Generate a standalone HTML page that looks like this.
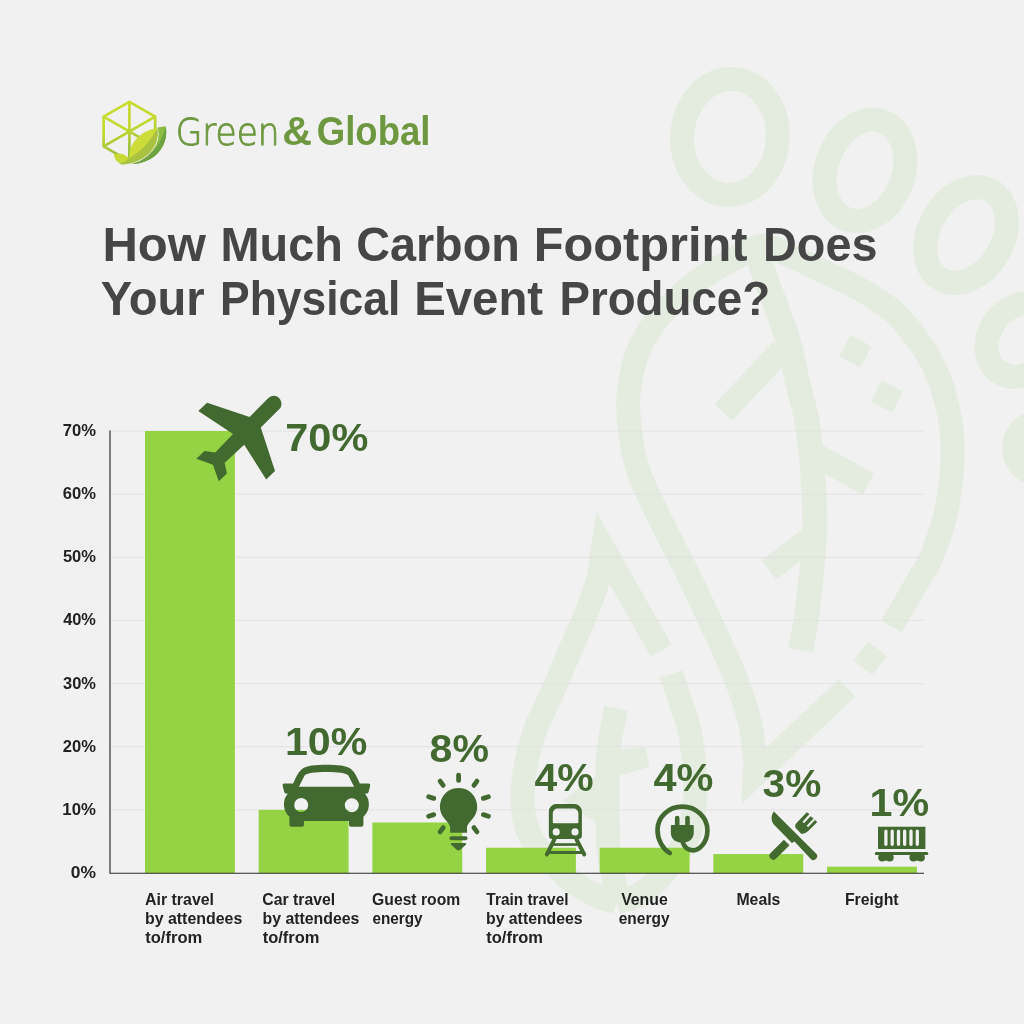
<!DOCTYPE html>
<html lang="en">
<head>
<meta charset="utf-8">
<title>How Much Carbon Footprint Does Your Physical Event Produce?</title>
<style>
html,body{margin:0;padding:0;background:#f1f1f1;}
body{width:1024px;height:1024px;overflow:hidden;}
svg{display:block;}
text{font-family:"Liberation Sans",sans-serif;}
.b{font-weight:700;}
.ttl{font-weight:700;fill:#464646;}
.ax{font-weight:700;fill:#222;}
.lb{font-weight:700;fill:#222;}
.pc{font-weight:700;fill:#42692f;}
</style>
</head>
<body>
<svg width="1024" height="1024" viewBox="0 0 1024 1024">
<defs>
<linearGradient id="hexg" x1="0.2" y1="0" x2="0.45" y2="1">
<stop offset="0" stop-color="#c9dc2e"/><stop offset="0.45" stop-color="#c3d92f"/><stop offset="0.72" stop-color="#a6c739"/><stop offset="1" stop-color="#7db340"/>
</linearGradient>
</defs>
<rect width="1024" height="1024" fill="#f1f1f1"/>

<!-- WATERMARK -->
<g id="wm" fill="none" stroke="#e4ecdf" stroke-width="24">
<ellipse cx="730" cy="137" rx="47.8" ry="58" transform="rotate(4 730 137)"/>
<ellipse cx="865" cy="170.5" rx="38.5" ry="52" transform="rotate(20 865 170.5)"/>
<ellipse cx="966" cy="235" rx="36.8" ry="50.9" transform="rotate(30 966 235)"/>
<ellipse cx="1021" cy="340" rx="32" ry="39" transform="rotate(35 1021 340)"/>
<ellipse cx="1042" cy="448" rx="28" ry="27"/>
<path d="M847 687.8L754.5 775.5C754.6 772.4 756.0 766.6 755.0 757.0C754.0 747.4 752.2 731.6 748.7 717.8C745.2 704.0 740.4 690.0 734.0 674.0C727.6 658.0 718.2 638.7 710.5 622.0C702.8 605.3 694.9 588.2 688.0 574.0C681.1 559.8 675.2 549.3 669.0 537.0C662.8 524.7 655.9 510.6 650.9 500.0C645.9 489.4 642.4 482.7 639.3 473.5C636.1 464.3 633.8 454.3 632.0 445.0C630.2 435.7 629.3 427.3 628.8 417.9C628.3 408.5 627.6 399.7 629.1 388.6C630.6 377.5 634.0 362.1 638.0 351.5C642.0 340.9 646.8 333.6 653.0 325.0C659.2 316.4 667.1 307.7 675.0 300.0C682.9 292.3 691.3 285.5 700.5 279.0C709.7 272.5 719.8 266.5 730.0 261.0C740.2 255.5 751.7 246.8 762.0 246.0C772.3 245.2 782.0 252.3 792.0 256.5C802.0 260.7 811.1 265.8 822.0 271.0C832.9 276.2 845.4 281.0 857.4 287.8C869.4 294.6 882.5 301.4 893.8 311.8C905.0 322.2 916.9 338.0 924.9 350.3C932.9 362.6 937.3 373.2 941.7 385.9C946.1 398.6 949.3 414.0 951.1 426.7C952.9 439.4 953.1 448.1 952.3 462.3C951.5 476.6 949.6 496.3 946.1 512.2C942.6 528.2 935.6 546.7 931.0 558.0C926.4 569.3 925.1 568.6 918.5 580.0C911.9 591.4 896.0 618.6 891.5 626.3" stroke-linejoin="miter" stroke-miterlimit="6"/>
<path d="M760.0 252.0C760.3 254.7 757.5 253.8 762.0 268.0C766.5 282.2 781.1 318.0 787.0 337.0C792.9 356.0 794.2 368.2 797.5 382.0C800.8 395.8 804.4 407.3 806.7 420.0C809.0 432.7 810.3 445.3 811.5 458.0C812.7 470.7 813.5 484.2 814.0 496.0C814.5 507.8 814.9 518.0 814.6 529.0C814.4 540.0 813.7 548.5 812.5 562.0C811.3 575.5 809.4 595.3 807.4 610.0C805.4 624.7 801.8 643.3 800.7 650.0" stroke-width="25"/>
<path d="M782 350L723.3 412.2"/>
<path d="M813 453.5L868.3 484.3"/>
<path d="M814 535.5L769 570.1"/>
<path d="M616.7 902.2C613.1 901.1 602.8 898.9 595.2 895.3C587.6 891.7 577.9 885.9 571.2 880.8C564.5 875.7 560.8 870.3 554.9 864.5C549.0 858.7 540.6 852.1 536.0 846.0C531.4 839.9 529.2 834.3 527.0 828.0C524.8 821.7 523.5 816.7 523.0 808.0C522.5 799.3 522.2 788.5 524.0 776.0C525.8 763.5 530.5 744.3 534.0 733.0C537.5 721.7 541.0 716.9 545.0 708.0C549.0 699.1 553.4 690.0 557.9 679.7C562.4 669.5 566.9 658.0 571.8 646.5C576.7 635.0 582.8 622.4 587.2 611.0C591.6 599.6 595.8 588.5 598.4 578.0C601.0 567.5 602.2 553.0 603.0 548.0L661.2 650.6" stroke-linejoin="miter" stroke-miterlimit="6"/>
<path d="M671.4 674.0C672.8 678.3 676.6 690.2 679.7 700.0C682.8 709.8 687.5 720.3 690.0 733.0C692.5 745.7 694.3 763.2 695.0 776.0C695.7 788.8 695.2 799.8 694.0 810.0C692.8 820.2 692.2 827.6 688.0 837.0C683.8 846.4 673.6 859.4 668.6 866.5C663.6 873.6 662.9 875.0 657.7 879.9C652.5 884.8 644.3 891.9 637.5 895.6C630.7 899.3 620.2 901.1 616.7 902.2"/>
<path d="M615.9 708.2C614.8 714.1 610.9 733.1 609.5 743.7C608.1 754.3 607.6 761.0 607.3 772.0C607.0 783.0 607.3 797.3 607.5 810.0C607.7 822.7 607.6 837.5 608.5 848.0C609.4 858.5 611.6 864.0 613.0 873.0C614.4 882.0 616.1 897.2 616.7 902.0"/>
<path d="M612 750L645.5 746.9L649.6 766.8L612 778Z" fill="#e4ecdf" stroke="none"/>
<path d="M600 773L562.3 800.4L600 825Z" fill="#e4ecdf" stroke="none"/>
<rect x="843.4" y="339.3" width="24" height="24" transform="rotate(29 855.4 351.3)" fill="#e4ecdf" stroke="none"/>
<rect x="875.0" y="384.4" width="24" height="24" transform="rotate(27 887 396.4)" fill="#e4ecdf" stroke="none"/>
<rect x="858.4" y="646.4" width="23.7" height="23.7" transform="rotate(38.6 870.3 658.2)" fill="#e4ecdf" stroke="none"/>
</g>

<!-- LOGO -->
<g id="logo">
<g fill="none" stroke="url(#hexg)" stroke-width="2.7" stroke-linejoin="round">
<path d="M129.4 101.8L155.2 116.6V146.4L129.4 161.2L103.6 146.4V116.6Z"/>
<path d="M129.4 101.8V161.2M103.6 116.6L155.2 146.4M155.2 116.6L103.6 146.4"/>
</g>
<path d="M157.6 127.6L165.6 126.3C169.5 144 156 163.5 132 164L123.5 164.6Z" fill="#8abd40"/>
<path d="M165.6 126.3C169.5 144 156 163.5 132 164C150 158.5 161 146 165.6 126.3Z" fill="#6ea243"/>
<path d="M157.2 127.8C160.5 142 151 161.5 123.5 164.6" fill="none" stroke="#f1f1f1" stroke-width="1.5"/>
<path d="M128.9 158.8C128.5 146 137 132 157.2 127.8C159.5 140 150 158.5 128.9 158.8Z" fill="#cddc39"/>
<path d="M128.9 158.8C143 150 152 139 157.2 127.8C160.5 142 151 161.5 123.5 164.6C121 164.8 119.5 163.8 118.5 162.6C122.5 162.4 126 160.8 128.9 158.8Z" fill="#a9c23f"/>
<path d="M113.8 154.2C119.5 152.6 126 154.2 128.9 158.8C126 161.4 122 163 118.3 162.6C115.6 160.6 114.2 157.6 113.8 154.2Z" fill="#c9da36"/>
</g>

<g id="logotext">
<text x="175.67" y="145.30" font-size="37.8" textLength="103.97" lengthAdjust="spacingAndGlyphs" style="font-family:'DejaVu Sans Light','DejaVu Sans','Liberation Sans',sans-serif;font-weight:200" fill="#6d983f" stroke="#6d983f" stroke-width="0.9">Green</text>
<text class="b" x="282.24" y="145.20" font-size="41" textLength="29.78" lengthAdjust="spacingAndGlyphs" fill="#6d983f">&amp;</text>
<text class="b" x="316.74" y="145.20" font-size="41" textLength="113.78" lengthAdjust="spacingAndGlyphs" fill="#6d983f">Global</text>
</g>

<!-- TITLE -->
<g id="title">
<text class="ttl" x="102.44" y="260.75" font-size="47.5" textLength="103.48" lengthAdjust="spacingAndGlyphs">How</text>
<text class="ttl" x="220.59" y="260.75" font-size="47.5" textLength="122.26" lengthAdjust="spacingAndGlyphs">Much</text>
<text class="ttl" x="356.13" y="260.75" font-size="47.5" textLength="163.68" lengthAdjust="spacingAndGlyphs">Carbon</text>
<text class="ttl" x="533.71" y="260.75" font-size="47.5" textLength="213.89" lengthAdjust="spacingAndGlyphs">Footprint</text>
<text class="ttl" x="763.10" y="260.75" font-size="47.5" textLength="114.29" lengthAdjust="spacingAndGlyphs">Does</text>
<text class="ttl" x="100.78" y="315.00" font-size="47.5" textLength="103.87" lengthAdjust="spacingAndGlyphs">Your</text>
<text class="ttl" x="220.00" y="315.00" font-size="47.5" textLength="180.34" lengthAdjust="spacingAndGlyphs">Physical</text>
<text class="ttl" x="414.20" y="315.00" font-size="47.5" textLength="128.92" lengthAdjust="spacingAndGlyphs">Event</text>
<text class="ttl" x="559.41" y="315.00" font-size="47.5" textLength="210.80" lengthAdjust="spacingAndGlyphs">Produce?</text>
</g>

<!-- CHART -->
<g id="chart">
<line x1="110" y1="809.9" x2="924" y2="809.9" stroke="#e2e2e2" stroke-width="1"/>
<line x1="110" y1="746.7" x2="924" y2="746.7" stroke="#e2e2e2" stroke-width="1"/>
<line x1="110" y1="683.6" x2="924" y2="683.6" stroke="#e2e2e2" stroke-width="1"/>
<line x1="110" y1="620.4" x2="924" y2="620.4" stroke="#e2e2e2" stroke-width="1"/>
<line x1="110" y1="557.3" x2="924" y2="557.3" stroke="#e2e2e2" stroke-width="1"/>
<line x1="110" y1="494.2" x2="924" y2="494.2" stroke="#e2e2e2" stroke-width="1"/>
<line x1="110" y1="431.0" x2="924" y2="431.0" stroke="#e2e2e2" stroke-width="1"/>
<rect x="145.00" y="431.02" width="89.9" height="441.98" fill="#94d444"/>
<rect x="258.67" y="809.86" width="89.9" height="63.14" fill="#94d444"/>
<rect x="372.34" y="822.49" width="89.9" height="50.51" fill="#94d444"/>
<rect x="486.01" y="847.74" width="89.9" height="25.26" fill="#94d444"/>
<rect x="599.68" y="847.74" width="89.9" height="25.26" fill="#94d444"/>
<rect x="713.35" y="854.06" width="89.9" height="18.94" fill="#94d444"/>
<rect x="827.02" y="866.69" width="89.9" height="6.31" fill="#94d444"/>
<path d="M110 430.5V873.2H924" fill="none" stroke="#2a2a2a" stroke-width="1.15"/>
<text class="ax" x="70.80" y="878.00" font-size="16.5" textLength="25.18" lengthAdjust="spacingAndGlyphs">0%</text>
<text class="ax" x="62.35" y="814.86" font-size="16.5" textLength="33.59" lengthAdjust="spacingAndGlyphs">10%</text>
<text class="ax" x="62.82" y="751.72" font-size="16.5" textLength="33.12" lengthAdjust="spacingAndGlyphs">20%</text>
<text class="ax" x="63.03" y="688.58" font-size="16.5" textLength="32.91" lengthAdjust="spacingAndGlyphs">30%</text>
<text class="ax" x="63.15" y="625.44" font-size="16.5" textLength="32.78" lengthAdjust="spacingAndGlyphs">40%</text>
<text class="ax" x="62.90" y="562.30" font-size="16.5" textLength="33.03" lengthAdjust="spacingAndGlyphs">50%</text>
<text class="ax" x="62.78" y="499.16" font-size="16.5" textLength="33.16" lengthAdjust="spacingAndGlyphs">60%</text>
<text class="ax" x="62.69" y="436.02" font-size="16.5" textLength="33.25" lengthAdjust="spacingAndGlyphs">70%</text>
</g>

<!-- ICONS -->
<g id="icons" fill="#42692f">
<path d="M207.1 402.7L249.6 416.9L268.1 398.3A7.78 7.78 0 0 1 279.4 409L260.8 427.6L275 471.1L266.2 479.4L244.2 444.7L224.7 462.75L226.9 473.5L218.8 481.3L212.9 464.7L196.3 458.8L204.5 451L215.2 452.5L233 433.9L198.3 411Z"/>
<path fill-rule="evenodd" d="M293.2 783.6C296 777 298 772.5 301.5 769.5C306 765.5 316 764.8 326.4 764.8C337 764.8 347 765.5 351.5 769.5C355 772.5 357 777 359.8 783.6L368.5 783.6Q370.5 783.6 370.2 785.6L368.6 792Q368.2 793.6 366.5 793.6L365 793.8C368 797.5 369.2 801 368.8 806C368.4 810.5 366.5 814 363.4 816.8V824.8Q363.4 826.8 361.4 826.8H351Q349 826.8 349 824.8V821H304V824.8Q304 826.8 302 826.8H291.4Q289.4 826.8 289.4 824.8V816.8C286.3 814 284.4 810.5 284 806C283.6 801 284.8 797.5 287.8 793.8L286.3 793.6Q284.6 793.6 284.2 792L282.6 785.6Q282.3 783.6 284.3 783.6Z M298.9 786.8L304.6 775.6C306 773 316 772 326.5 772C337 772 347 773 348.4 775.6L354.1 786.8Z M308.2 805A7 7 0 1 0 294.2 805A7 7 0 1 0 308.2 805Z M358.8 805.2A7 7 0 1 0 344.8 805.2A7 7 0 1 0 358.8 805.2Z"/>
<path d="M450.1 832.8L450.1 826.5C448.5 822 444.5 819.5 442.2 815.4A18.6 18.6 0 1 1 474.9 815.4C472.6 819.5 468.6 822 467 826.5L467 832.8Z"/>
<rect x="449.5" y="836.3" width="18" height="3.9" rx="1.95"/>
<path d="M452 843.1H465Q467 843.1 465.8 844.8L460.3 849.8Q458.5 851.3 456.7 849.8L451.2 844.8Q450 843.1 452 843.1Z"/>
<path d="M443.2 827.6L440.1 831.9M433.7 814.6L428.7 816.2M433.7 798.4L428.7 796.8M443.2 785.4L440.1 781.1M458.6 780.4L458.6 775.1M473.9 785.4L477.0 781.1M483.4 798.4L488.4 796.8M483.4 814.6L488.4 816.2M473.9 827.6L477.0 831.9" fill="none" stroke="#42692f" stroke-width="4.8" stroke-linecap="round"/>
<path fill-rule="evenodd" d="M556.35 804.1H574.4A7.5 7.5 0 0 1 581.9 811.6V835.6A3.5 3.5 0 0 1 578.4 839.1H552.35A3.5 3.5 0 0 1 548.85 835.6V811.6A7.5 7.5 0 0 1 556.35 804.1Z M557.55 808.6H573.6A4.8 4.8 0 0 1 578.4 813.4V822.3Q578.4 823.3 577.4 823.3H553.75Q552.75 823.3 552.75 822.3V813.4A4.8 4.8 0 0 1 557.55 808.6Z M559.75 831.9A3.55 3.55 0 1 0 552.65 831.9A3.55 3.55 0 1 0 559.75 831.9Z M578.55 831.9A3.55 3.55 0 1 0 571.45 831.9A3.55 3.55 0 1 0 578.55 831.9Z"/>
<path d="M554.5 839.1L546.9 854.4M576.3 839.1L584.2 854.4" fill="none" stroke="#42692f" stroke-width="4.1" stroke-linecap="round"/>
<path d="M553 844.55H577.7" fill="none" stroke="#42692f" stroke-width="2.7"/>
<path d="M548.6 852.6H583.2" fill="none" stroke="#42692f" stroke-width="3"/>
<path d="M669.8 853.1C663 849 657.5 840 657.5 830.2C657.5 817 668.5 806.6 682.3 806.6C696 806.6 707.4 817 707.4 830.2C707.4 842 700 850.3 693 850.3C688 850.3 684.5 847.5 682.8 842.5" fill="none" stroke="#42692f" stroke-width="4.65" stroke-linecap="round"/>
<path d="M671.85 825H692.75Q693.75 825 693.75 826V833C693.75 839 688.5 842.8 682.3 842.8C676 842.8 670.85 839 670.85 833V826Q670.85 825 671.85 825Z"/>
<path d="M677.2 818.1V826M687.5 818.1V826" fill="none" stroke="#42692f" stroke-width="4.6" stroke-linecap="round"/>
<path d="M773.9 811.5L816 853.6A3.7 3.7 0 0 1 810.8 858.9L794.5 841.6L791.9 843.1L773.6 824.2C771 820.5 770.8 815.5 773.9 811.5Z"/>
<path d="M783.9 839.7L789.5 845.3L776.2 858.6A3.95 3.95 0 0 1 770.6 853Z"/>
<path d="M806.8 812.2L809.5 814.1L802.5 821.7L804 823.2L810.5 816.2L813.6 818.5L806.6 825.8L808.1 827.3L814.9 820L817.3 821.9L808.5 830.7Q805.5 833.9 801.5 833.9L795.3 827.4Q794.6 824.5 796.8 822.7Z"/>
<path fill-rule="evenodd" d="M878 826.8H925.4V848.9H878ZM884.25 831.25A1.65 1.65 0 0 1 887.55 831.25V844.25A1.65 1.65 0 0 1 884.25 844.25ZM890.55 831.25A1.65 1.65 0 0 1 893.85 831.25V844.25A1.65 1.65 0 0 1 890.55 844.25ZM896.85 831.25A1.65 1.65 0 0 1 900.15 831.25V844.25A1.65 1.65 0 0 1 896.85 844.25ZM903.00 831.25A1.65 1.65 0 0 1 906.30 831.25V844.25A1.65 1.65 0 0 1 903.00 844.25ZM909.35 831.25A1.65 1.65 0 0 1 912.65 831.25V844.25A1.65 1.65 0 0 1 909.35 844.25ZM915.65 831.25A1.65 1.65 0 0 1 918.95 831.25V844.25A1.65 1.65 0 0 1 915.65 844.25Z"/>
<rect x="874.8" y="851.9" width="53.5" height="3" rx="1.5"/>
<circle cx="882.3" cy="857.5" r="4.1"/>
<circle cx="889.6" cy="857.5" r="4.1"/>
<circle cx="913.5" cy="857.5" r="4.1"/>
<circle cx="920.8" cy="857.5" r="4.1"/>
<rect x="882.3" y="854" width="7.3" height="6.5"/><rect x="913.5" y="854" width="7.3" height="6.5"/>
</g>

<!-- PERCENT -->
<g id="pct">
<text class="pc" x="285.24" y="450.70" font-size="39" textLength="83.06" lengthAdjust="spacingAndGlyphs">70%</text>
<text class="pc" x="284.93" y="754.70" font-size="39" textLength="82.36" lengthAdjust="spacingAndGlyphs">10%</text>
<text class="pc" x="429.57" y="762.10" font-size="39" textLength="59.33" lengthAdjust="spacingAndGlyphs">8%</text>
<text class="pc" x="534.49" y="791.30" font-size="39" textLength="59.15" lengthAdjust="spacingAndGlyphs">4%</text>
<text class="pc" x="653.48" y="791.30" font-size="39" textLength="59.98" lengthAdjust="spacingAndGlyphs">4%</text>
<text class="pc" x="762.59" y="796.70" font-size="39" textLength="58.75" lengthAdjust="spacingAndGlyphs">3%</text>
<text class="pc" x="869.52" y="815.90" font-size="39" textLength="59.63" lengthAdjust="spacingAndGlyphs">1%</text>
</g>

<!-- LABELS -->
<g id="labels">
<text class="lb" x="145.00" y="905.00" font-size="16.5" textLength="69.02" lengthAdjust="spacingAndGlyphs">Air travel</text>
<text class="lb" x="144.97" y="923.75" font-size="16.5" textLength="97.29" lengthAdjust="spacingAndGlyphs">by attendees</text>
<text class="lb" x="145.19" y="942.50" font-size="16.5" textLength="57.08" lengthAdjust="spacingAndGlyphs">to/from</text>
<text class="lb" x="262.27" y="905.00" font-size="16.5" textLength="72.86" lengthAdjust="spacingAndGlyphs">Car travel</text>
<text class="lb" x="262.47" y="923.75" font-size="16.5" textLength="96.93" lengthAdjust="spacingAndGlyphs">by attendees</text>
<text class="lb" x="262.69" y="942.50" font-size="16.5" textLength="56.82" lengthAdjust="spacingAndGlyphs">to/from</text>
<text class="lb" x="372.12" y="905.00" font-size="16.5" textLength="88.10" lengthAdjust="spacingAndGlyphs">Guest room</text>
<text class="lb" x="372.39" y="923.75" font-size="16.5" textLength="50.22" lengthAdjust="spacingAndGlyphs">energy</text>
<text class="lb" x="486.35" y="905.00" font-size="16.5" textLength="82.15" lengthAdjust="spacingAndGlyphs">Train travel</text>
<text class="lb" x="485.97" y="923.75" font-size="16.5" textLength="96.68" lengthAdjust="spacingAndGlyphs">by attendees</text>
<text class="lb" x="486.29" y="942.50" font-size="16.5" textLength="56.72" lengthAdjust="spacingAndGlyphs">to/from</text>
<text class="lb" x="621.13" y="905.00" font-size="16.5" textLength="46.60" lengthAdjust="spacingAndGlyphs">Venue</text>
<text class="lb" x="618.78" y="923.75" font-size="16.5" textLength="50.73" lengthAdjust="spacingAndGlyphs">energy</text>
<text class="lb" x="736.43" y="905.00" font-size="16.5" textLength="43.93" lengthAdjust="spacingAndGlyphs">Meals</text>
<text class="lb" x="844.93" y="905.00" font-size="16.5" textLength="53.69" lengthAdjust="spacingAndGlyphs">Freight</text>
</g>
</svg>
</body>
</html>
